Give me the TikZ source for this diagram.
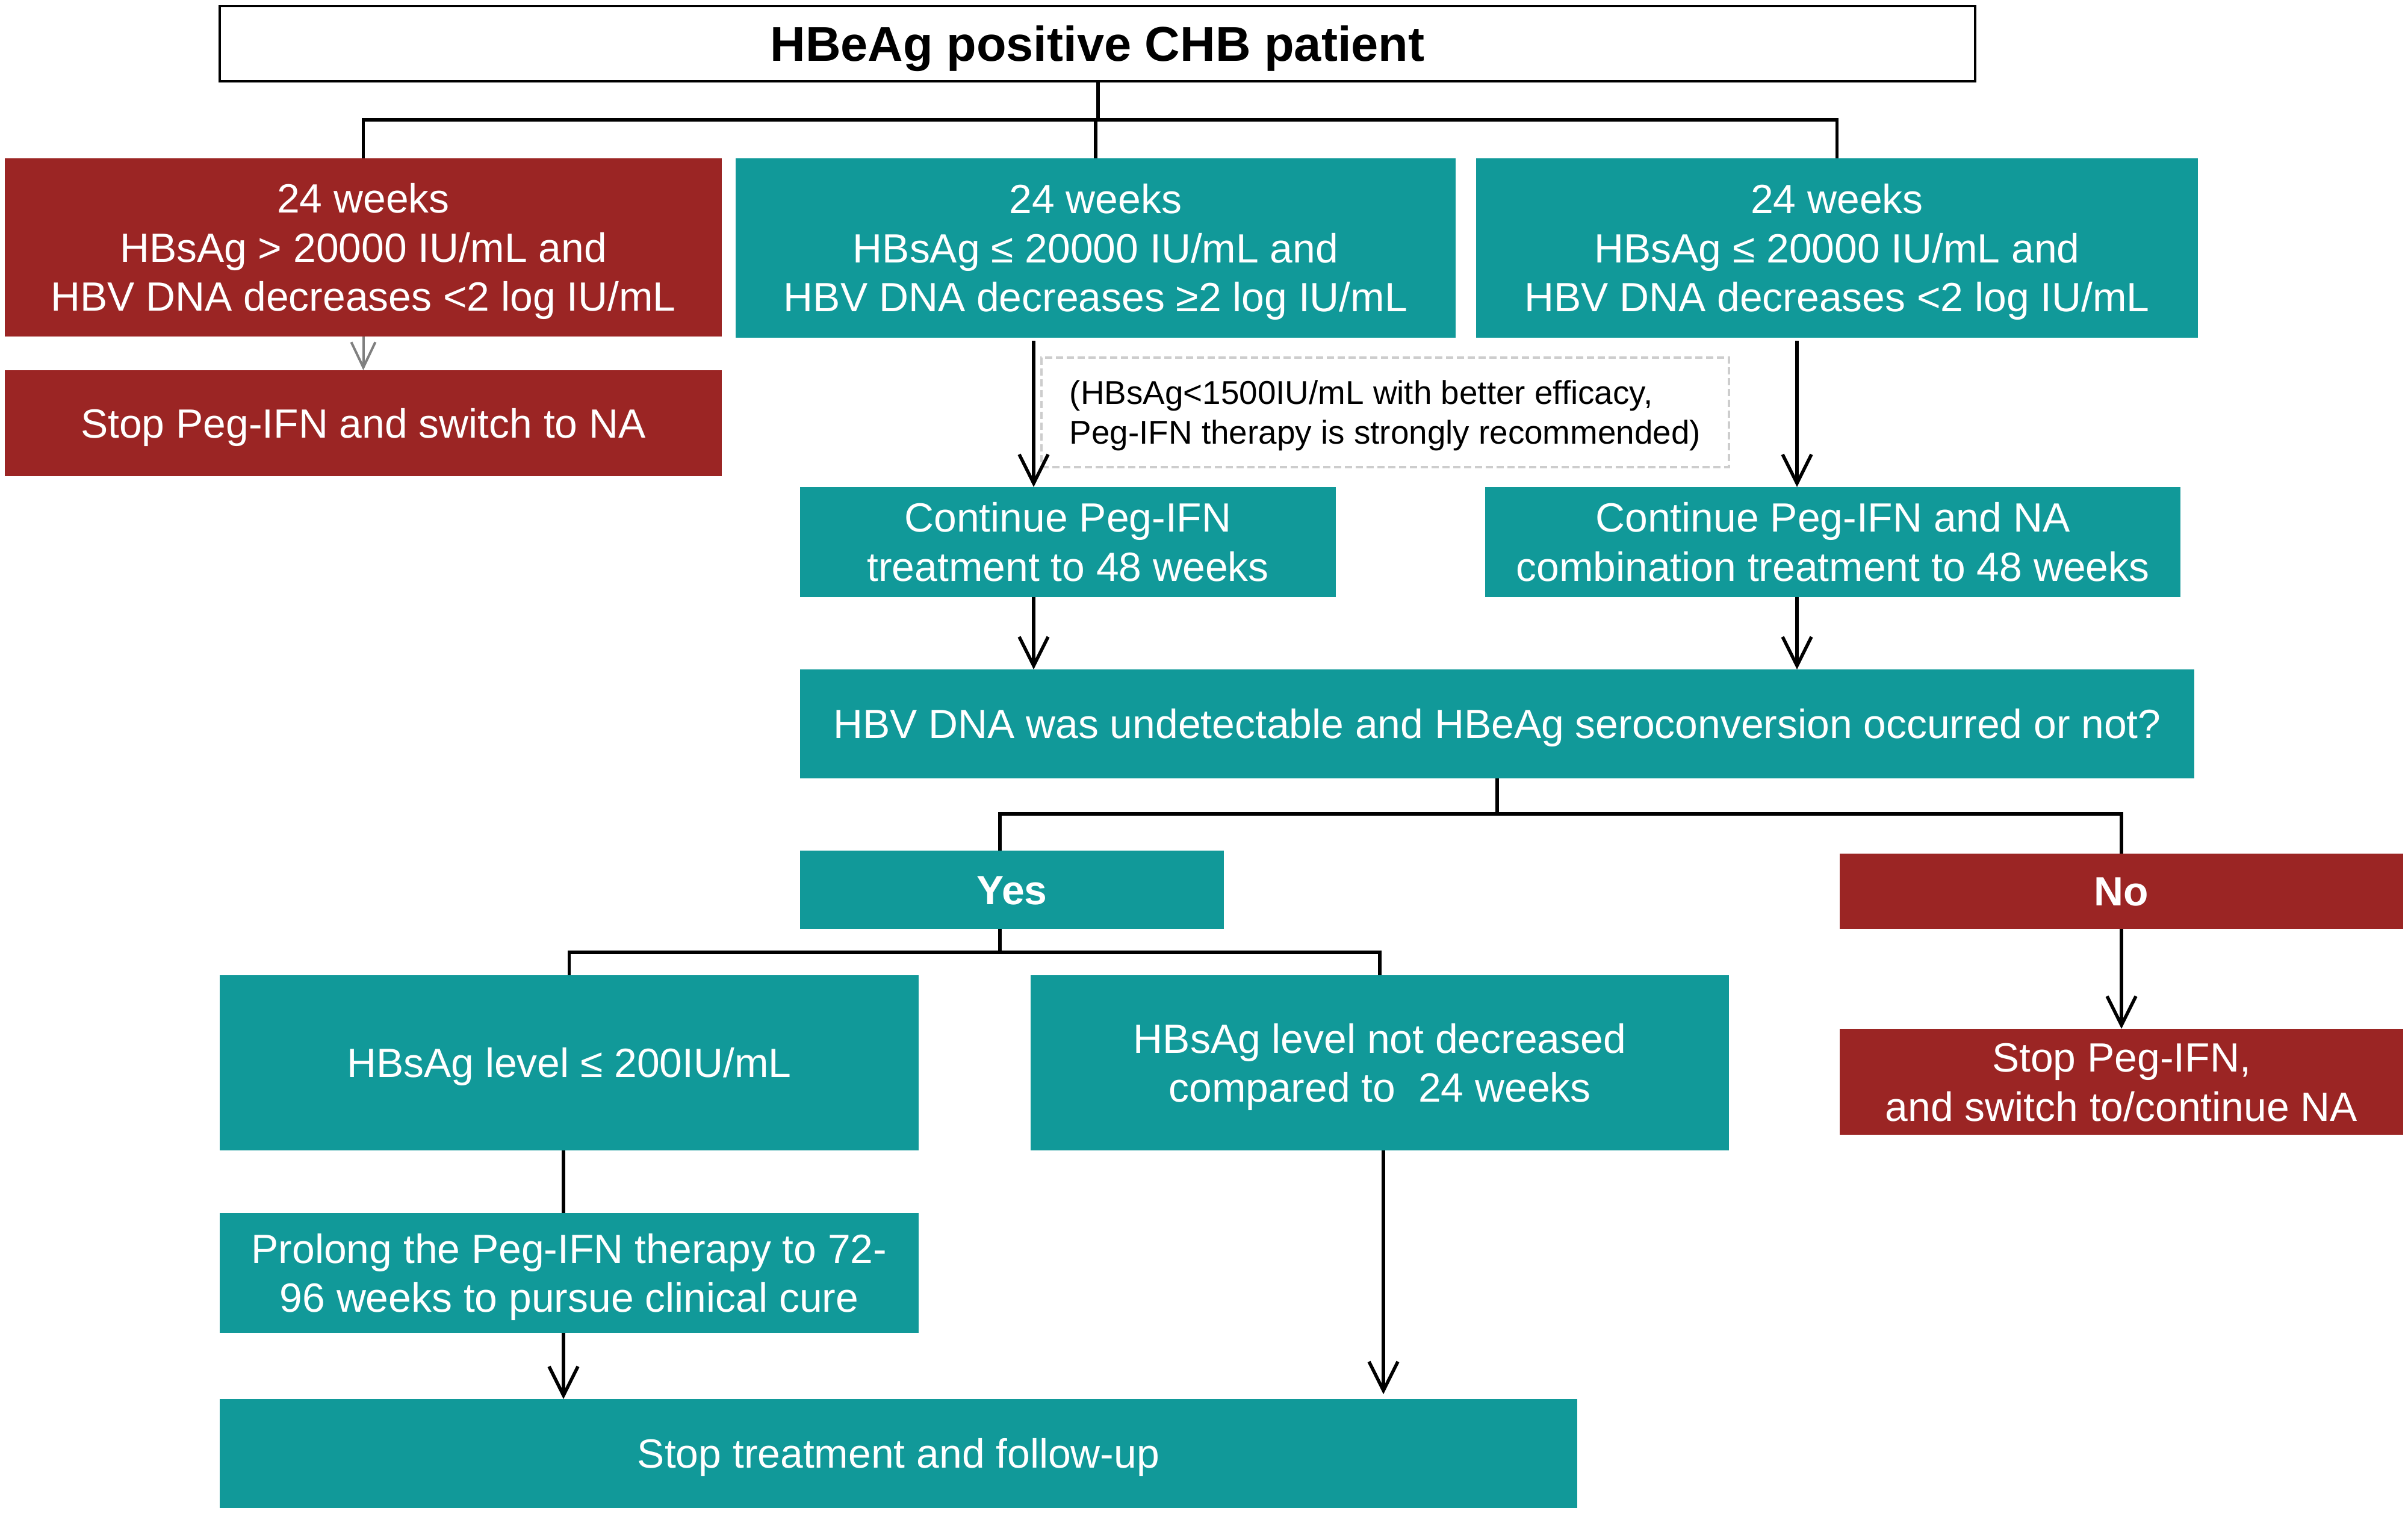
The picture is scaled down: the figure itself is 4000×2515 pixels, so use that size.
\documentclass[tikz,border=0pt]{standalone}
\usepackage{fontspec}
\setmainfont{Liberation Sans}
\usetikzlibrary{arrows.meta,calc}
\definecolor{cred}{RGB}{155,37,36}
\definecolor{cteal}{RGB}{17,153,153}
\definecolor{dgray}{RGB}{205,205,205}
\definecolor{agray}{RGB}{128,128,128}
\tikzset{
  sz/.style 2 args={minimum width=#1mm, minimum height=#2mm},
  lone/.style={text height=13.8pt, text depth=0pt},
  ltwo/.style={text height=37pt, text depth=0pt},
  lthree/.style={text height=60.2pt, text depth=0pt},
  basebox/.style={inner sep=0pt, outer sep=0pt, align=center, text=white,
    font=\fontsize{19.3}{23.2}\selectfont},
  redbox/.style={basebox, fill=cred},
  tealbox/.style={basebox, fill=cteal},
  boldtext/.style={font=\fontsize{19.3}{23.2}\selectfont\bfseries},
  titlebox/.style={inner sep=0pt, outer sep=0pt, draw=black, line width=0.45mm, fill=white,
    font=\fontsize{23.1}{26}\selectfont\bfseries, text height=16.5pt, text depth=0pt},
  notebox/.style={inner sep=0pt, outer sep=0pt, draw=dgray, line width=0.4mm, dash pattern=on 1.2mm off 0.6mm,
    align=left, font=\fontsize{15.6}{18.8}\selectfont, text height=30pt, text depth=0pt},
  conn/.style={draw=black, line width=0.55mm},
  arr/.style={conn, -{Straight Barb[length=4.8mm, width=4.8mm, line width=0.55mm]}},
  garr/.style={draw=agray, line width=0.4mm, -{Straight Barb[length=4.2mm, width=4mm, line width=0.4mm]}},
}
\begin{document}
\begin{tikzpicture}[x=0.1mm, y=-0.1mm]
\useasboundingbox (0,0) rectangle (4000,2515);
% nodes
\node[titlebox, sz={291.6}{12.5}] (T) at (1823,72.5) {HBeAg positive CHB patient};
\node[redbox, lthree, sz={119.1}{29.6}] (A) at (603.5,411) {24 weeks\\HBsAg > 20000 IU/mL and\\HBV DNA decreases <2 log IU/mL};
\node[tealbox, lthree, sz={119.6}{29.8}] (B) at (1820,412) {24 weeks\\HBsAg ≤ 20000 IU/mL and\\HBV DNA decreases ≥2 log IU/mL};
\node[tealbox, lthree, sz={119.9}{29.8}] (C) at (3051.5,412) {24 weeks\\HBsAg ≤ 20000 IU/mL and\\HBV DNA decreases <2 log IU/mL};
\node[redbox, lone, sz={119.1}{17.6}] (D) at (603.5,703) {Stop Peg-IFN and switch to NA};
\node[notebox, sz={114.2}{18.2}] (N) at (2301,685) {(HBsAg<1500IU/mL with better efficacy,\\Peg-IFN therapy is strongly recommended)};
\node[tealbox, ltwo, sz={89.0}{18.3}] (E) at (1774,900.5) {Continue Peg-IFN\\treatment to 48 weeks};
\node[tealbox, ltwo, sz={115.5}{18.3}] (F) at (3044.5,900.5) {Continue Peg-IFN and NA\\combination treatment to 48 weeks};
\node[tealbox, lone, sz={231.6}{18.1}] (G) at (2487,1202.5) {HBV DNA was undetectable and HBeAg seroconversion occurred or not?};
\node[tealbox, lone, boldtext, sz={70.4}{13.0}] (Y) at (1681,1478) {Yes};
\node[redbox, lone, boldtext, sz={93.6}{12.5}] (No) at (3524,1480.5) {No};
\node[tealbox, lone, sz={116.1}{29.1}] (H) at (945.5,1765.5) {HBsAg level ≤ 200IU/mL};
\node[tealbox, ltwo, sz={116.0}{29.1}] (I) at (2292,1765.5) {HBsAg level not decreased\\compared to\ \ 24 weeks};
\node[redbox, ltwo, sz={93.6}{17.6}] (J) at (3524,1797) {Stop Peg-IFN,\\and switch to/continue NA};
\node[tealbox, ltwo, sz={116.1}{19.9}] (K) at (945.5,2114.5) {Prolong the Peg-IFN therapy to 72-\\96 weeks to pursue clinical cure};
\node[tealbox, lone, sz={225.5}{18.1}] (L) at (1492.5,2414.5) {Stop treatment and follow-up};
% helper coordinates
\coordinate (j1) at (1824,199);
\coordinate (xb) at (1717,0);
\coordinate (xc) at (2985,0);
\coordinate (j2) at (2487,1352);
\coordinate (xy) at (1661,0);
\coordinate (j3) at (1661,1582);
\coordinate (xh) at (936,0);
\coordinate (xi) at (2298,0);
% connectors top
\draw[conn] (T.south -| j1) -- (j1);
\draw[conn] (A.north) |- (j1) -| (C.north);
\draw[conn] (B.north) -- (B.north |- j1);
\draw[garr] (A.south) -- (D.north);
\draw[arr] ($(B.south -| xb)+(0,5)$) -- (E.north -| xb);
\draw[arr] ($(C.south -| xc)+(0,5)$) -- (F.north -| xc);
\draw[arr] (E.south -| xb) -- (G.north -| xb);
\draw[arr] (F.south -| xc) -- (G.north -| xc);
% yes / no
\draw[conn] (G.south -| j2) -- (j2);
\draw[conn] (Y.north -| xy) |- (j2) -| (No.north);
\draw[arr] (No.south) -- (J.north);
% yes branch
\draw[conn] (Y.south -| xy) -- (j3);
\draw[conn] (H.north) |- (j3) -| (I.north);
\draw[conn] (H.south -| xh) -- (K.north -| xh);
\draw[arr] (K.south -| xh) -- (L.north -| xh);
\draw[arr] (I.south -| xi) -- ($(L.north -| xi)+(0,-8)$);
\end{tikzpicture}
\end{document}
